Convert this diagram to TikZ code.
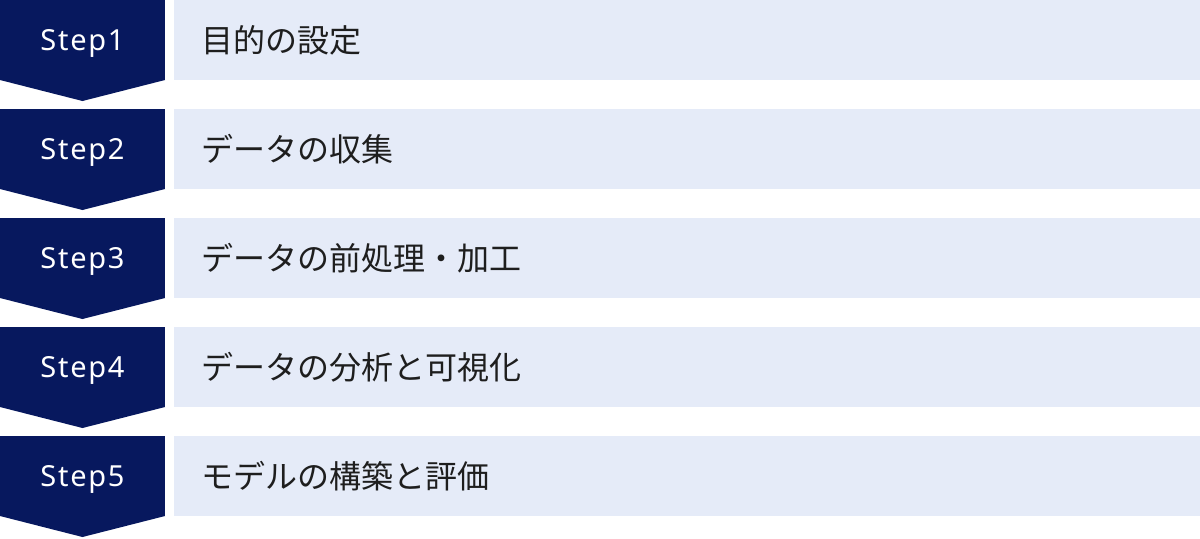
\documentclass[tikz,border=0pt]{standalone}
\usepackage{fontspec}
\newfontfamily\stepfont[LetterSpace=6]{Noto Sans}
\newfontfamily\jpfont{Noto Sans CJK JP}
\usetikzlibrary{
	calc,
	positioning
	}
\definecolor{navy}{HTML}{07185E}
\definecolor{pale}{HTML}{E5EBF8}
\definecolor{ink}{HTML}{1E1E1E}
\tikzset{font={\fontsize{15pt}{18}\selectfont}}
\tikzstyle{stepbox}=[fill=navy,text=white,rectangle,inner sep=0pt,outer sep=0pt,minimum width=82.5pt,minimum height=40pt,text depth=-1pt,font={\stepfont\fontsize{14.5pt}{18}\selectfont}]
\tikzstyle{infobox}=[fill=pale,text=ink,rectangle,inner ysep=0pt,inner xsep=13.5pt,outer sep=0pt,minimum width=513pt,minimum height=40pt,text width=486pt,align=left,font={\jpfont\fontsize{16pt}{18}\selectfont}]
\newcommand{\chevron}[1]{\fill[navy] (#1.south west) -- (#1.south east) -- ($(#1.south)+(0,-10.5pt)$) -- cycle;}

\begin{document}
\begin{tikzpicture}
        \useasboundingbox (0,0) rectangle (600pt,-269pt);
        %
        \node[stepbox, anchor=north west] (s1) at (0,0) {Step1};
        \node[stepbox, below=14.5pt of s1] (s2) {Step2};
        \node[stepbox, below=14.5pt of s2] (s3) {Step3};
        \node[stepbox, below=14.5pt of s3] (s4) {Step4};
        \node[stepbox, below=14.5pt of s4] (s5) {Step5};
        %
        \chevron{s1}
        \chevron{s2}
        \chevron{s3}
        \chevron{s4}
        \chevron{s5}
        %
        \node[infobox, right=4.5pt of s1] (b1) {目的の設定};
        \node[infobox, right=4.5pt of s2] (b2) {データの収集};
        \node[infobox, right=4.5pt of s3] (b3) {データの前処理・加工};
        \node[infobox, right=4.5pt of s4] (b4) {データの分析と可視化};
        \node[infobox, right=4.5pt of s5] (b5) {モデルの構築と評価};
    \end{tikzpicture}
\end{document}
